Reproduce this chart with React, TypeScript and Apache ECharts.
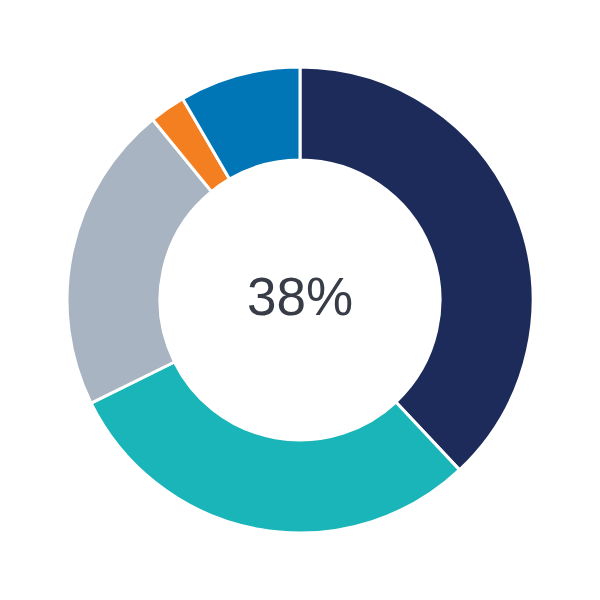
import React, { useEffect, useRef } from 'react'
import * as echarts from 'echarts'

const names = ['Navy', 'Teal', 'Gray', 'Orange', 'Blue']
const values = [38, 29.7, 21.4, 2.5, 8.4]
const colors = ['#1c2b5a', '#1ab5b8', '#a9b4c2', '#f47f20', '#0076b6']
const centerLabel = '38%'

const App: React.FC = () => {
  const chartRef = useRef<HTMLDivElement>(null)

  useEffect(() => {
    if (!chartRef.current) return
    document.body.style.margin = '0'
    const chart = echarts.init(chartRef.current, null, { renderer: 'svg' })

    chart.setOption({
      animation: false,
      graphic: [
        {
          type: 'text',
          x: 300,
          y: 296,
          style: {
            text: centerLabel,
            align: 'center',
            verticalAlign: 'middle',
            fontFamily: 'Liberation Sans, Arial, sans-serif',
            fontSize: 53,
            fill: '#373c47'
          }
        }
      ],
      series: [
        {
          type: 'pie',
          center: [300, 300],
          radius: [140, 233],
          startAngle: 90,
          clockwise: true,
          label: { show: false },
          labelLine: { show: false },
          itemStyle: { borderColor: '#fff', borderWidth: 3 },
          data: names.map((name, i) => ({
            name,
            value: values[i],
            itemStyle: { color: colors[i] }
          }))
        }
      ]
    })

    return () => {
      chart.dispose()
    }
  }, [])

  return <div ref={chartRef} style={{ width: 600, height: 600 }} />
}

export default App
